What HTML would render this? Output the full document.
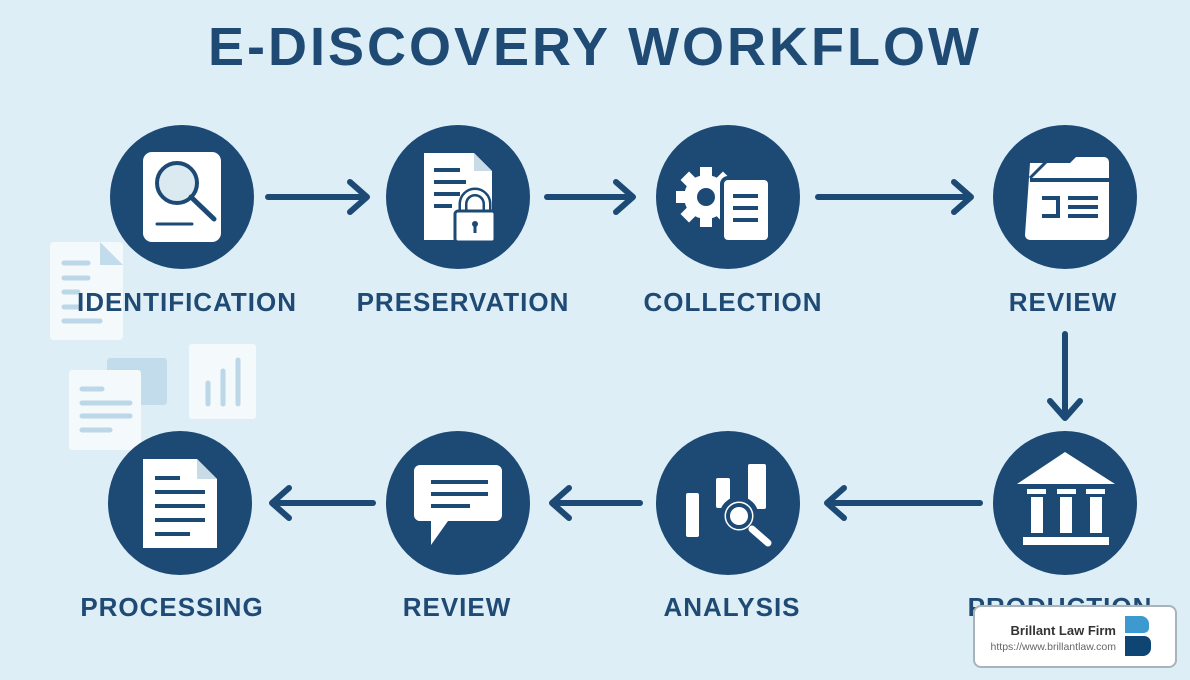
<!DOCTYPE html>
<html><head><style>
html,body{margin:0;padding:0;width:1190px;height:680px;overflow:hidden;background:#dfeef7;font-family:"Liberation Sans",sans-serif}
</style></head><body>
<svg width="1190" height="680" xmlns="http://www.w3.org/2000/svg">
<rect width="1190" height="680" fill="#deeef7"/>
<rect x="50" y="242" width="73" height="98" rx="4" fill="#f4f9fc"/>
<polygon points="100,242 123,265 100,265" fill="#c3dceb"/>
<g stroke="#bcd7e8" stroke-width="5" stroke-linecap="round">
<line x1="64" y1="263" x2="88" y2="263"/><line x1="64" y1="278" x2="88" y2="278"/><line x1="64" y1="292" x2="78" y2="292"/><line x1="64" y1="307" x2="78" y2="307"/><line x1="64" y1="321" x2="100" y2="321"/></g>
<rect x="107" y="358" width="60" height="47" rx="3" fill="#c3dceb"/>
<rect x="69" y="370" width="72" height="80" rx="3" fill="#f4f9fc"/>
<g stroke="#bcd7e8" stroke-width="5" stroke-linecap="round">
<line x1="82" y1="389" x2="102" y2="389"/><line x1="82" y1="403" x2="130" y2="403"/><line x1="82" y1="416" x2="130" y2="416"/><line x1="82" y1="430" x2="110" y2="430"/></g>
<rect x="189" y="344" width="67" height="75" rx="3" fill="#f4f9fc"/>
<g stroke="#bcd7e8" stroke-width="5" stroke-linecap="round">
<line x1="208" y1="383" x2="208" y2="404"/><line x1="223" y1="371" x2="223" y2="404"/><line x1="238" y1="360" x2="238" y2="404"/></g>

<text x="595" y="65" text-anchor="middle" font-family="Liberation Sans" font-weight="bold" font-size="54" fill="#1e4a74" letter-spacing="3">E-DISCOVERY WORKFLOW</text>

<g fill="#1c4a75">
<circle cx="182" cy="197" r="72"/><circle cx="458" cy="197" r="72"/><circle cx="728" cy="197" r="72"/><circle cx="1065" cy="197" r="72"/>
<circle cx="180" cy="503" r="72"/><circle cx="458" cy="503" r="72"/><circle cx="728" cy="503" r="72"/><circle cx="1065" cy="503" r="72"/>
</g>
<g stroke="#1c4a75" stroke-width="6" stroke-linecap="round" fill="none" stroke-linejoin="round">
<line x1="268" y1="197" x2="366" y2="197"/><polyline points="350,182 367,197 350,212"/>
<line x1="547" y1="197" x2="632" y2="197"/><polyline points="616,182 633,197 616,212"/>
<line x1="818" y1="197" x2="970" y2="197"/><polyline points="954,182 971,197 954,212"/>
<line x1="1065" y1="334" x2="1065" y2="417"/><polyline points="1050,401 1065,418 1080,401"/>
<line x1="980" y1="503" x2="828" y2="503"/><polyline points="844,488 827,503 844,518"/>
<line x1="640" y1="503" x2="553" y2="503"/><polyline points="569,488 552,503 569,518"/>
<line x1="373" y1="503" x2="273" y2="503"/><polyline points="289,488 272,503 289,518"/>
</g>
<rect x="143" y="152" width="78" height="90" rx="9" fill="#fff"/>
<circle cx="177" cy="183" r="20" fill="#dbe9f1" stroke="#1c4a75" stroke-width="4"/>
<line x1="191" y1="197" x2="214" y2="219" stroke="#1c4a75" stroke-width="5" stroke-linecap="round"/>
<line x1="157" y1="224" x2="192" y2="224" stroke="#1c4a75" stroke-width="3" stroke-linecap="round"/>

<polygon points="424,153 474,153 492,171 492,240 424,240" fill="#fff"/>
<polygon points="474,153 492,171 474,171" fill="#c9dbe6"/>
<g stroke="#1c4a75" stroke-width="4"><line x1="434" y1="170" x2="460" y2="170"/><line x1="434" y1="182" x2="466" y2="182"/><line x1="434" y1="194" x2="460" y2="194"/><line x1="434" y1="206" x2="452" y2="206"/></g>
<path d="M463 212 v-8 a12 12 0 0 1 24 0 v8" fill="none" stroke="#1c4a75" stroke-width="9"/>
<path d="M463 212 v-8 a12 12 0 0 1 24 0 v8" fill="none" stroke="#fff" stroke-width="4"/>
<rect x="455" y="211" width="40" height="31" rx="3" fill="#fff" stroke="#1c4a75" stroke-width="3"/>
<circle cx="475" cy="224" r="3" fill="#1c4a75"/><line x1="475" y1="224" x2="475" y2="233" stroke="#1c4a75" stroke-width="3"/>

<g fill="#fff"><circle cx="706" cy="197" r="22"/>
<g transform="translate(706 197)"><rect x="-6" y="-30" width="12" height="12"/><rect x="-6" y="18" width="12" height="12"/><rect x="-30" y="-6" width="12" height="12"/><rect x="18" y="-6" width="12" height="12"/><rect x="-6" y="-30" width="12" height="12" transform="rotate(45)"/><rect x="-6" y="-30" width="12" height="12" transform="rotate(-45)"/><rect x="-6" y="-30" width="12" height="12" transform="rotate(135)"/><rect x="-6" y="-30" width="12" height="12" transform="rotate(-135)"/></g></g>
<circle cx="706" cy="197" r="9" fill="#1c4a75"/>
<rect x="722" y="178" width="48" height="64" rx="6" fill="#fff" stroke="#1c4a75" stroke-width="4"/>
<g stroke="#1c4a75" stroke-width="4"><line x1="733" y1="196" x2="758" y2="196"/><line x1="733" y1="208" x2="758" y2="208"/><line x1="733" y1="220" x2="758" y2="220"/></g>

<path d="M1030 163 h40 l6 -6 h28 a5 5 0 0 1 5 5 v73 a5 5 0 0 1 -5 5 h-74 a5 5 0 0 1 -5 -5 z" fill="#fff"/>
<path d="M1030 178 l20 -20" stroke="#1c4a75" stroke-width="3"/>
<line x1="1030" y1="180" x2="1109" y2="180" stroke="#1c4a75" stroke-width="4"/>
<path d="M1042 198 h16 v18 h-16" fill="none" stroke="#1c4a75" stroke-width="4"/>
<g stroke="#1c4a75" stroke-width="4"><line x1="1068" y1="198" x2="1098" y2="198"/><line x1="1068" y1="207" x2="1098" y2="207"/><line x1="1068" y1="216" x2="1098" y2="216"/></g>

<polygon points="143,459 197,459 217,479 217,548 143,548" fill="#fff"/>
<polygon points="197,459 217,479 197,479" fill="#c9dbe6"/>
<g stroke="#1c4a75" stroke-width="4"><line x1="155" y1="478" x2="180" y2="478"/><line x1="155" y1="492" x2="205" y2="492"/><line x1="155" y1="506" x2="205" y2="506"/><line x1="155" y1="520" x2="205" y2="520"/><line x1="155" y1="534" x2="190" y2="534"/></g>

<path d="M420 465 h76 a6 6 0 0 1 6 6 v44 a6 6 0 0 1 -6 6 h-48 l-17 24 v-24 h-11 a6 6 0 0 1 -6 -6 v-44 a6 6 0 0 1 6 -6z" fill="#fff"/>
<g stroke="#1c4a75" stroke-width="4"><line x1="431" y1="482" x2="488" y2="482"/><line x1="431" y1="494" x2="488" y2="494"/><line x1="431" y1="506" x2="470" y2="506"/></g>

<g fill="#fff"><rect x="686" y="493" width="13" height="44" rx="2"/><rect x="716" y="478" width="14" height="30" rx="2"/><rect x="748" y="464" width="18" height="45" rx="2"/></g>
<circle cx="739" cy="516" r="17" fill="#fff" stroke="#1c4a75" stroke-width="5"/>
<circle cx="739" cy="516" r="11" fill="#fff" stroke="#1c4a75" stroke-width="4"/>
<line x1="752" y1="529" x2="768" y2="543" stroke="#fff" stroke-width="7" stroke-linecap="round"/>

<g fill="#fff"><polygon points="1065,452 1115,484 1017,484"/>
<rect x="1027" y="489" width="19" height="5"/><rect x="1057" y="489" width="19" height="5"/><rect x="1086" y="489" width="19" height="5"/>
<rect x="1031" y="497" width="12" height="36"/><rect x="1060" y="497" width="12" height="36"/><rect x="1090" y="497" width="12" height="36"/>
<rect x="1023" y="537" width="86" height="8"/></g>

<g font-family="Liberation Sans" font-weight="bold" font-size="26" fill="#1e4a74" text-anchor="middle" letter-spacing="1">
<text x="187" y="311">IDENTIFICATION</text>
<text x="463" y="311">PRESERVATION</text>
<text x="733" y="311">COLLECTION</text>
<text x="1063" y="311">REVIEW</text>
<text x="172" y="616">PROCESSING</text>
<text x="457" y="616">REVIEW</text>
<text x="732" y="616">ANALYSIS</text>
<text x="1060" y="616">PRODUCTION</text>
</g>
<rect x="974" y="606" width="202" height="61" rx="7" fill="#fff" stroke="#a9b3ba" stroke-width="2"/>
<text x="1116" y="635" text-anchor="end" font-family="Liberation Sans" font-weight="bold" font-size="13" fill="#333">Brillant Law Firm</text>
<text x="1116" y="650" text-anchor="end" font-family="Liberation Sans" font-size="10.5" fill="#666">https://www.brillantlaw.com</text>
<path d="M1125 616 h16 a8 8 0 0 1 8 8 v4 a5 5 0 0 1 -5 5 h-19z" fill="#3d9ad0"/>
<path d="M1125 636 h19 a7 7 0 0 1 7 7 v5 a8 8 0 0 1 -8 8 h-18z" fill="#0e4573"/>
</svg>
</body></html>
